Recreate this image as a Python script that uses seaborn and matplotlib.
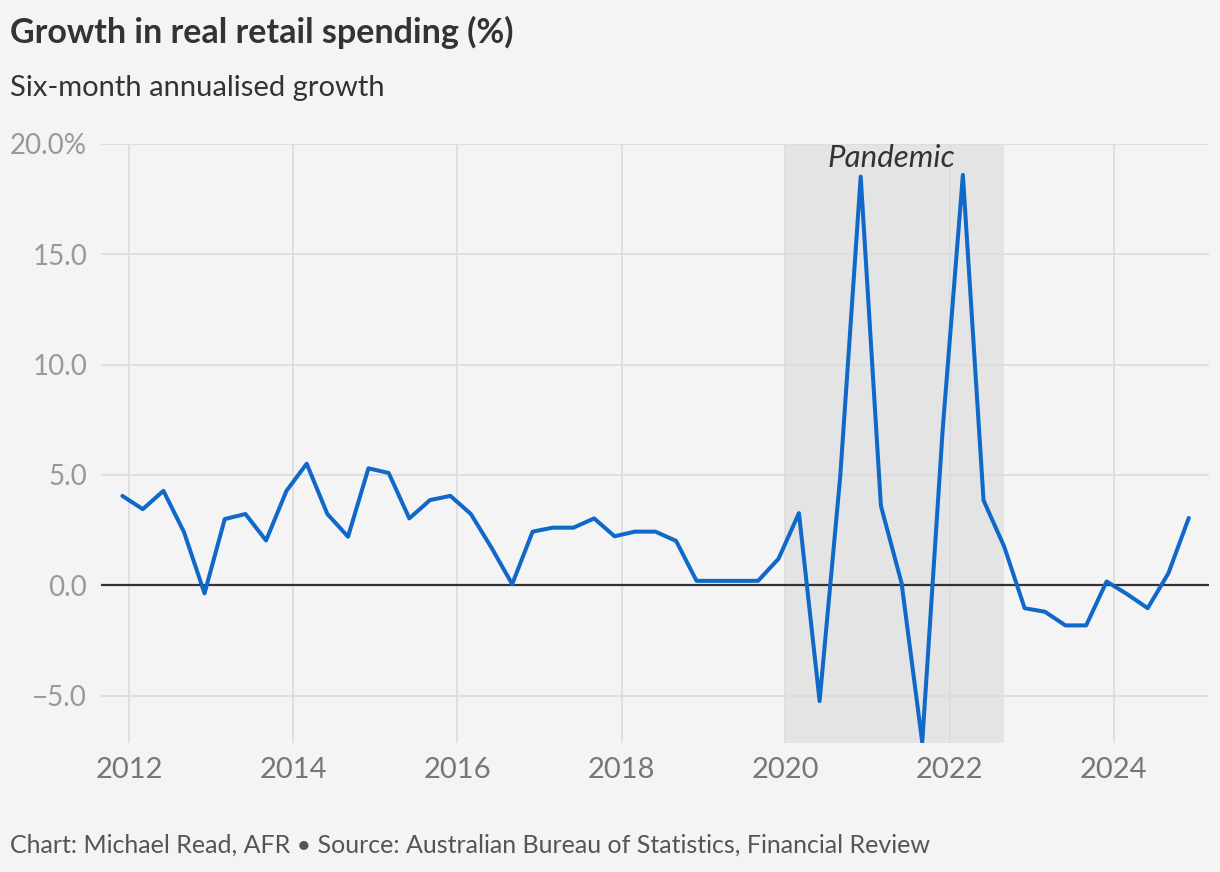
import matplotlib
matplotlib.use("Agg")
import matplotlib.pyplot as plt
import matplotlib.ticker as mticker
import seaborn as sns
import pandas as pd

# quarterly, Dec 2011 to Dec 2024
dates = pd.date_range("2011-12-01", "2024-12-01", freq="3MS")
growth = [4.05, 3.45, 4.28, 2.4, -0.37, 3.0, 3.23, 2.03, 4.28, 5.51,
          3.23, 2.2, 5.3, 5.09, 3.03, 3.86, 4.05, 3.23, 1.7, 0.05,
          2.43, 2.61, 2.61, 3.03, 2.22, 2.43, 2.43, 2.01, 0.2, 0.2,
          0.2, 0.2, 1.2, 3.27, -5.25, 4.95, 18.52, 3.6, 0.1, -7.12,
          7.05, 18.6, 3.85, 1.75, -1.04, -1.2, -1.82, -1.82, 0.17, -0.4,
          -1.04, 0.54, 3.05]
pandemic_start = "2020-01-01"
pandemic_end = "2022-09-01"
year_ticks = [2012, 2014, 2016, 2018, 2020, 2022, 2024]
y_ticks = [-5, 0, 5, 10, 15, 20]

df = pd.DataFrame({"date": dates, "growth": growth})

sns.set_theme(style="white")
plt.rcParams["font.family"] = ["Lato", "DejaVu Sans"]

bg = "#f4f4f4"
fig = plt.figure(figsize=(12.2, 8.72), dpi=100, facecolor=bg)
ax = fig.add_axes([101 / 1220, 1 - 743 / 872, (1209 - 101) / 1220, (743 - 144) / 872])
ax.set_facecolor(bg)

ax.axvspan(pd.Timestamp(pandemic_start), pd.Timestamp(pandemic_end),
           color="#e4e4e4", zorder=0.2, lw=0)
ax.axhline(0, color="#333333", lw=1.6, zorder=2)

sns.lineplot(data=df, x="date", y="growth", ax=ax, color="#1068c8",
             lw=2.9, zorder=3)

ax.set_xlim(pd.Timestamp("2011-08-28"), pd.Timestamp("2025-03-01"))
ax.set_ylim(-7.15, 20)

ax.set_xticks([pd.Timestamp(f"{y}-01-01") for y in year_ticks])
ax.set_xticklabels([str(y) for y in year_ticks])
ax.set_yticks(y_ticks)
ax.yaxis.set_major_formatter(mticker.FuncFormatter(
    lambda v, p: f"{v:.1f}%" if v == 20 else f"{v:.1f}".replace("-", "\u2212")))

ax.grid(True, color="#dddddd", lw=1.3)
ax.set_axisbelow(True)
for s in ax.spines.values():
    s.set_visible(False)
ax.tick_params(axis="x", length=0, pad=10, labelsize=21, labelcolor="#777777")
ax.tick_params(axis="y", length=0, pad=10, labelsize=20, labelcolor="#999999")
ax.set_xlabel("")
ax.set_ylabel("")

ax.text(pd.Timestamp("2021-04-15"), 19.35, "Pandemic", ha="center", va="center",
        fontsize=22.5, style="italic", color="#333333")

fig.text(10 / 1220, 1 - 32 / 872, "Growth in real retail spending (%)",
         fontsize=24.5, fontweight="bold", color="#333333", va="center")
fig.text(10 / 1220, 1 - 88 / 872, "Six-month annualised growth",
         fontsize=21, color="#333333", va="center")
fig.text(10 / 1220, 1 - 845 / 872,
         "Chart: Michael Read, AFR \u2022 Source: Australian Bureau of Statistics, Financial Review",
         fontsize=18, color="#555555", va="center")

fig.savefig("out.png", dpi=100, facecolor=bg)
